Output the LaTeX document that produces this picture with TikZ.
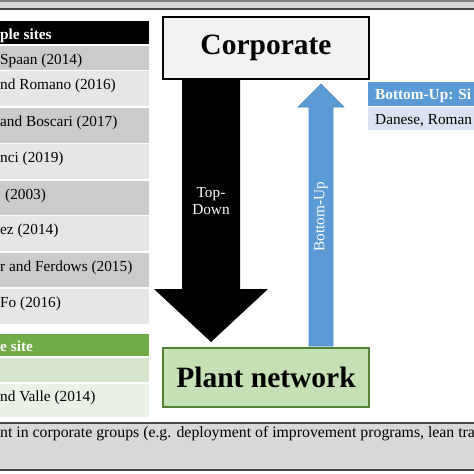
\documentclass[tikz,border=0pt]{standalone}
\usepackage{fontspec}
\setmainfont{Liberation Serif}
\usetikzlibrary{calc}
\definecolor{rowdark}{HTML}{CBCBCB}
\definecolor{rowlight}{HTML}{E6E6E6}
\definecolor{greenhead}{HTML}{70AD47}
\definecolor{greenrow}{HTML}{D5E4CB}
\definecolor{greenpale}{HTML}{EBF1E6}
\definecolor{corpfill}{HTML}{F2F2F2}
\definecolor{plantfill}{HTML}{C5E0B4}
\definecolor{plantedge}{HTML}{548235}
\definecolor{bufill}{HTML}{5B9BD5}
\definecolor{buedge}{HTML}{4F8AC2}
\definecolor{bluerow}{HTML}{D9E1F2}
\definecolor{bandfill}{HTML}{D9D9D9}
\definecolor{bandedge}{HTML}{464646}

\begin{document}
\begin{tikzpicture}[x=1pt,y=-1pt,
  txt/.style={anchor=base west,inner sep=0pt,font=\fontsize{15.3}{17}\selectfont},
  hdr/.style={txt,text=white,font=\fontsize{15.3}{17}\selectfont\bfseries},
  bigbox/.style={line width=2pt,minimum width=206pt,inner sep=0pt,font=\fontsize{29.5}{32}\selectfont\bfseries}]
\useasboundingbox (0,0) rectangle (474,474);
\clip (0,0) rectangle (474,474);
\fill[white] (0,0) rectangle (474,474);
% bands at top and bottom
\fill[bandfill] (-2,-5) rectangle (476,9);
\fill[gray!75!black!80] (-2,-5) rectangle (476,1.5);
\draw[bandedge,line width=2pt] (-2,9) -- (476,9);
\fill[bandfill] (-2,423) rectangle (476,469);
\draw[bandedge,line width=2pt] (-2,423) -- (476,423) (-2,469.5) -- (476,469.5);
\node[txt,font=\fontsize{15.8}{17}\selectfont] (band) at (0,437) {nt in corporate groups (e.g. deployment of improvement programs, lean tra};
% left table
\fill[black] (-2,21) rectangle (149,44);
\node[hdr] (multi) at (0,39.5) {ple sites};
\foreach \ya/\yb/\col/\xa/\lbl [count=\i] in {
  46/70/rowdark/0/{Spaan (2014)},
  71/106/rowlight/0/{nd Romano (2016)},
  108/143/rowdark/0/{and Boscari (2017)},
  144/179/rowlight/0/{nci (2019)},
  181/215/rowdark/5/{(2003)},
  216/251/rowlight/0/{ez (2014)},
  253/287/rowdark/0/{r and Ferdows (2015)},
  289/324/rowlight/0/{Fo (2016)}}
{
  \fill[\col] (-2,\ya) rectangle (149,\yb);
  \node[txt] (row\i) at (\xa,\ya+18.5) {\lbl};
}
\fill[greenhead] (-2,334) rectangle (149,356);
\node[hdr] (single) at (0,351) {e site};
\fill[greenrow] (-2,358) rectangle (149,382);
\fill[greenpale] (-2,384) rectangle (149,417);
\node[txt] (valle) at (0,401.5) {nd Valle (2014)};
% right table
\fill[bufill] (368,82) rectangle (476,106);
\node[hdr] (buhead) at (375,99.5) {Bottom-Up: Si};
\fill[bluerow] (368,107) rectangle (476,130);
\node[txt] (burow) at (375,124.5) {Danese, Roman};
% corporate and plant network
\node[bigbox,draw=black,fill=corpfill,minimum height=62pt] (corp) at (266,48) {Corporate};
\node[bigbox,draw=plantedge,fill=plantfill,minimum height=59pt] (plant) at (266,377.5) {Plant network};
% top-down
\coordinate (td) at ($(corp.south)+(-55,0)$);
\coordinate (tdtip) at ($(plant.north)+(-55,-5)$);
\fill ($(td)+(-29,0)$) -- ($(tdtip)+(-29,-53)$) -- ($(tdtip)+(-57,-53)$) -- (tdtip)
  -- ($(tdtip)+(57,-53)$) -- ($(tdtip)+(29,-53)$) -- ($(td)+(29,0)$) -- cycle;
\node[text=white,align=center,font=\fontsize{15.3}{17}\selectfont] (tdtxt) at (211,201) {Top-\\Down};
% bottom-up
\coordinate (bu) at ($(plant.north)+(55,-1)$);
\coordinate (butip) at ($(corp.south)+(55,4)$);
\draw[fill=bufill,draw=buedge,line width=0.6pt] ($(bu)+(-12,0)$) -- ($(butip)+(-12,23)$) -- ($(butip)+(-23,23)$) -- (butip)
  -- ($(butip)+(23,23)$) -- ($(butip)+(12,23)$) -- ($(bu)+(12,0)$) -- cycle;
\node[rotate=90,text=white,font=\fontsize{15.3}{17}\selectfont] (butxt) at (321,217) {Bottom-Up};
\end{tikzpicture}
\end{document}
